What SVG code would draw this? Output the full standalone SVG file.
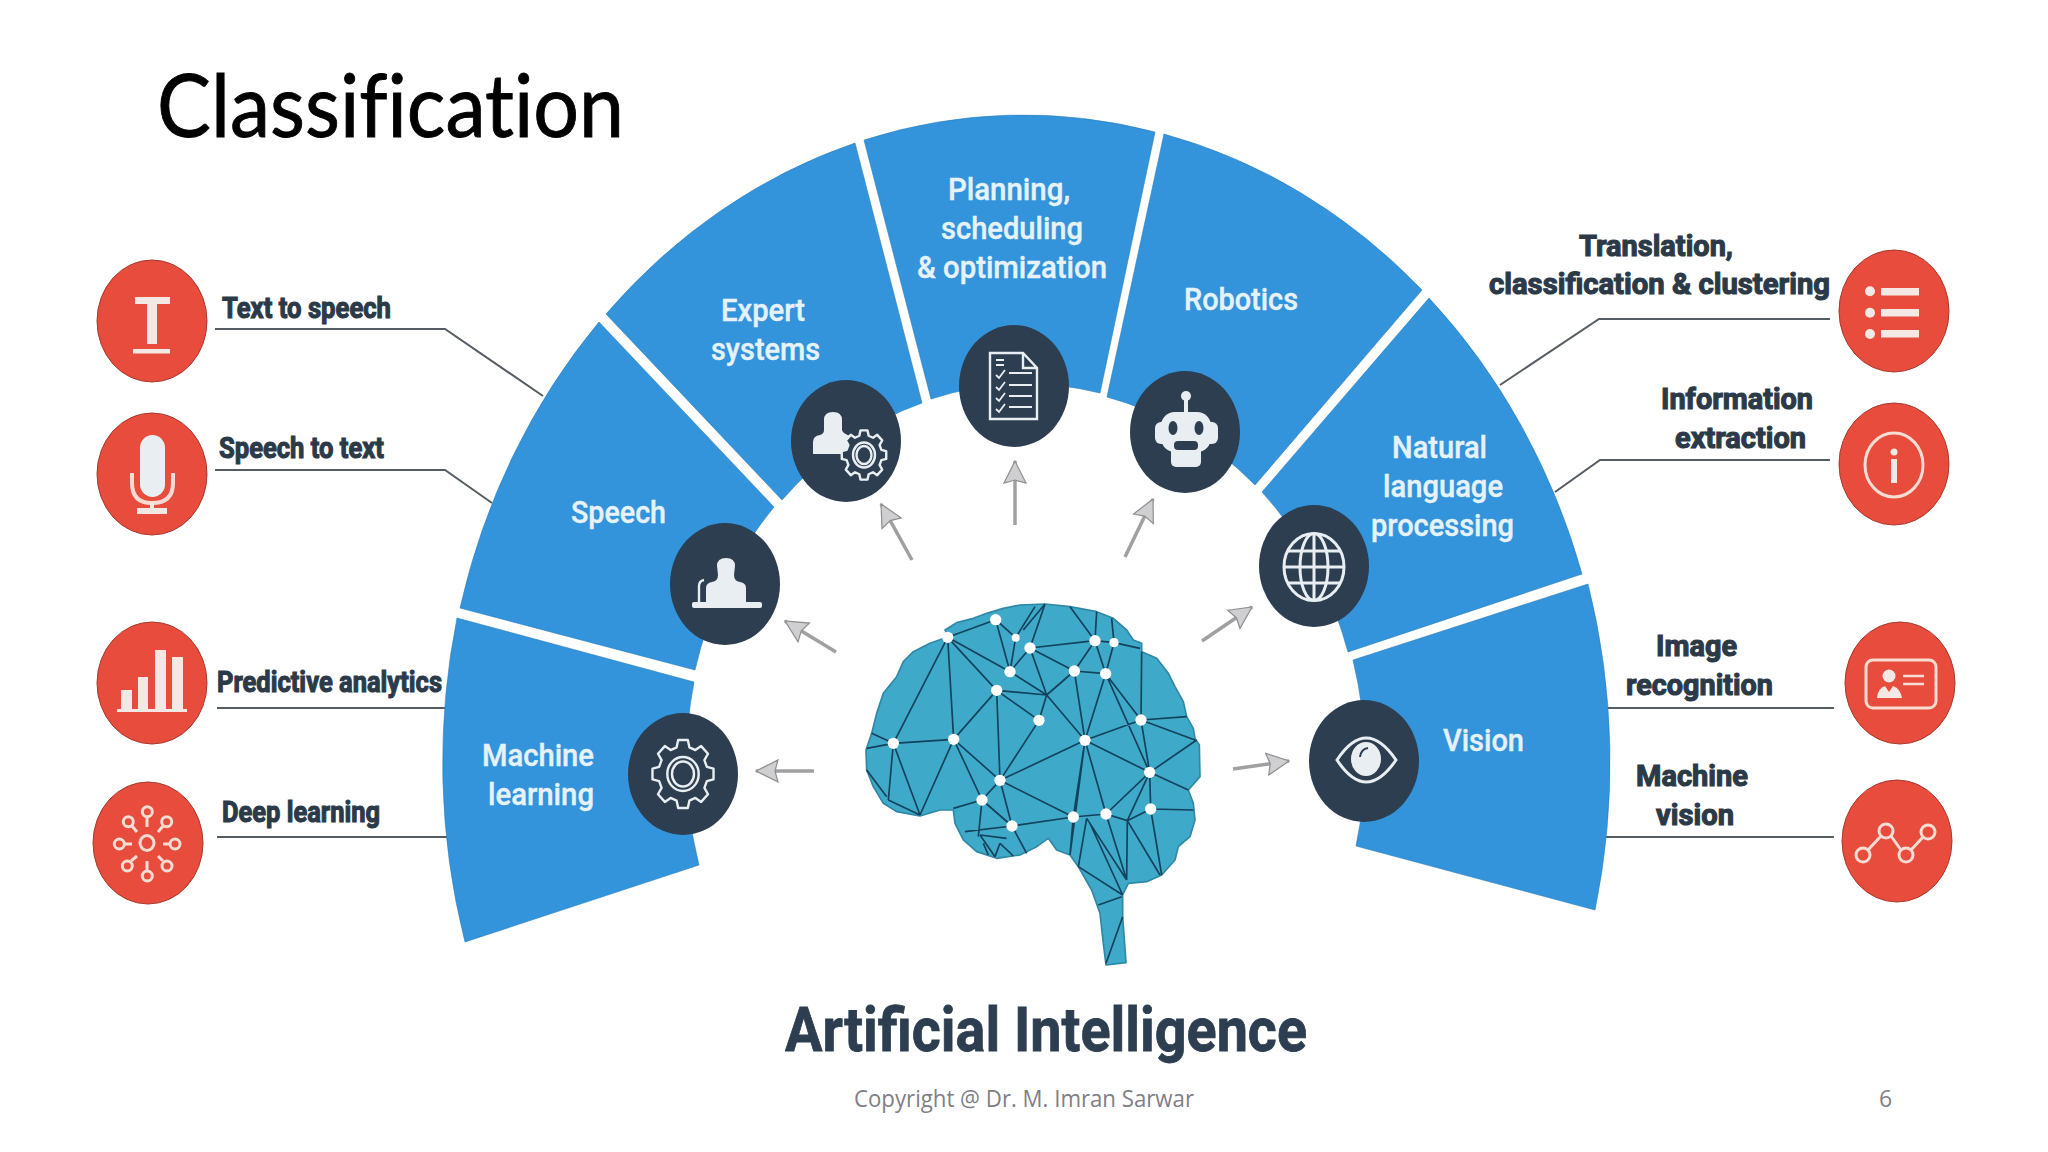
<svg xmlns="http://www.w3.org/2000/svg" width="2048" height="1152" viewBox="0 0 2048 1152">
<style>
.seg{fill:#3393db;stroke:#2a7fc0;stroke-width:.6}
.hub{fill:#2c3e50}
.red{fill:#e74c3c;stroke:#a83a2e;stroke-width:1}
.wl{font-family:Roboto,"Liberation Sans",sans-serif;font-weight:500;font-size:31px;fill:#e6f2fa;stroke:#e6f2fa;stroke-width:.4}
.dl{font-family:Roboto,"Liberation Sans",sans-serif;font-weight:700;font-size:29px;fill:#2c3a48;stroke:#2c3a48;stroke-width:1.1}
.ic{fill:#e9eef2}
.icl{fill:none;stroke:#e9eef2;stroke-width:2.4}
.rf{fill:#f3e8e3}
.rl{fill:none;stroke:#f6dcd3;stroke-width:3}
.lead{fill:none;stroke:#555c63;stroke-width:2}
.arr{fill:none;stroke:#a0a0a0;stroke-width:3.5;marker-end:url(#ah)}
</style>
<defs>
<marker id="ah" markerUnits="userSpaceOnUse" markerWidth="26" markerHeight="28" refX="23" refY="13" orient="auto">
<path d="M1,2 L23,13 L1,24 L4,13 Z" fill="#cfcfd2" stroke="#8f8f92" stroke-width="1.2"/>
</marker>
<g id="gear"><polygon vector-effect="non-scaling-stroke" fill="#2c3e50" stroke="#e9eef2" stroke-width="2.4" stroke-linejoin="round" points="23.18,-6.21 29.63,-4.69 29.63,4.69 23.18,6.21 20.78,12 24.27,17.63 17.63,24.27 12,20.78 6.21,23.18 4.69,29.63 -4.69,29.63 -6.21,23.18 -12,20.78 -17.63,24.27 -24.27,17.63 -20.78,12 -23.18,6.21 -29.63,4.69 -29.63,-4.69 -23.18,-6.21 -20.78,-12 -24.27,-17.63 -17.63,-24.27 -12,-20.78 -6.21,-23.18 -4.69,-29.63 4.69,-29.63 6.21,-23.18 12,-20.78 17.63,-24.27 24.27,-17.63 20.78,-12"/></g>
</defs>
<rect width="2048" height="1152" fill="#fff"/>
<text id="title" x="157" y="137" font-family="Lato,'Open Sans',sans-serif" font-size="88" fill="#000" stroke="#000" stroke-width=".9" style="font-variant-ligatures:none" textLength="467" lengthAdjust="spacingAndGlyphs">Classification</text>

<g id="connectors">
<path class="lead" d="M215,329 H445 L543,396"/>
<path class="lead" d="M215,470 H445 L492,503"/>
<path class="lead" d="M217,708 H446"/>
<path class="lead" d="M217,837 H447"/>
<path class="lead" d="M1830,319 H1599 L1500,385"/>
<path class="lead" d="M1830,460 H1600 L1555,492"/>
<path class="lead" d="M1834,708 H1606"/>
<path class="lead" d="M1834,837 H1605"/>
<path class="arr" d="M814,771 H756"/>
<path class="arr" d="M836,652 L785,621"/>
<path class="arr" d="M912,560 L881,504"/>
<path class="arr" d="M1015,525 V461"/>
<path class="arr" d="M1125,557 L1153,499"/>
<path class="arr" d="M1202,641 L1252,607"/>
<path class="arr" d="M1233,769 L1289,761"/>
</g>

<g id="node-machine-learning">
<path class="seg" d="M457,618 A582 655 0 0 0 465,942 L699,865 A340 380 0 0 1 694,682 Z"/>
<ellipse class="hub" cx="683" cy="774" rx="55" ry="61"/>
<use href="#gear" transform="translate(683,774) scale(1.03,1.15)"/>
<ellipse class="icl" cx="683" cy="774" rx="15.7" ry="17"/>
<ellipse class="icl" cx="683" cy="774" rx="11" ry="12.5"/>
<text class="wl" x="482" y="766" textLength="112" lengthAdjust="spacingAndGlyphs">Machine</text>
<text class="wl" x="488" y="805" textLength="106" lengthAdjust="spacingAndGlyphs">learning</text>
</g>
<g id="node-speech">
<path class="seg" d="M599,322 A582 655 0 0 0 460,608 L695,670 A340 380 0 0 1 774,507 Z"/>
<ellipse class="hub" cx="725" cy="584" rx="55" ry="61"/>
<path class="ic" d="M717,566 Q717,558 726,558 Q735,558 735,566 L734,575 Q734,581 740,582 Q746,583 746,588 L746,602 L706,602 L706,588 Q706,583 712,582 Q718,581 718,575 Z"/>
<rect class="ic" x="692" y="602" width="70" height="6" rx="2"/>
<path class="icl" d="M699,602 V586 Q699,581 704,580"/>
<text class="wl" x="571" y="523" textLength="95" lengthAdjust="spacingAndGlyphs">Speech</text>
</g>
<g id="node-expert-systems">
<path class="seg" d="M855,143 A582 655 0 0 0 606,314 L782,500 A340 380 0 0 1 922,403 Z"/>
<ellipse class="hub" cx="846" cy="441" rx="55" ry="61"/>
<path class="ic" d="M824,420 Q824,412 833,412 Q842,412 842,420 L842,430 Q843,434 851,436 L851,454 H813 V442 Q813,436 820,435 Q824,434 824,430 Z"/>
<use href="#gear" transform="translate(864,455) scale(.75,.83)"/>
<ellipse class="icl" cx="864" cy="455" rx="11" ry="12.5"/>
<ellipse class="icl" cx="864" cy="455" rx="7.5" ry="9"/>
<text class="wl" x="721" y="321" textLength="84" lengthAdjust="spacingAndGlyphs">Expert</text>
<text class="wl" x="711" y="360" textLength="109" lengthAdjust="spacingAndGlyphs">systems</text>
</g>
<g id="node-planning">
<path class="seg" d="M1155,132 A582 655 0 0 0 864,140 L931,399 A340 380 0 0 1 1100,393 Z"/>
<ellipse class="hub" cx="1014" cy="386" rx="55" ry="61"/>
<path class="icl" d="M990,353 H1023 L1037,368 V419 H990 Z M1023,353 V368 H1037"/>
<path class="icl" style="stroke-width:1.8" d="M996,360 H1004 M996,365 H1004 M996,375 L999,378 L1005,370 M1009,373 H1032 M996,387 L999,390 L1005,382 M1009,385 H1032 M996,398 L999,401 L1005,393 M1009,396 H1032 M996,409 L999,412 L1005,404 M1009,407 H1032"/>
<text class="wl" x="948" y="200" textLength="122" lengthAdjust="spacingAndGlyphs">Planning,</text>
<text class="wl" x="941" y="239" textLength="142" lengthAdjust="spacingAndGlyphs">scheduling</text>
<text class="wl" x="917" y="278" textLength="190" lengthAdjust="spacingAndGlyphs">&amp; optimization</text>
</g>
<g id="node-robotics">
<path class="seg" d="M1422,290 A582 655 0 0 0 1164,134 L1107,397 A340 380 0 0 1 1255,485 Z"/>
<ellipse class="hub" cx="1185" cy="432" rx="55" ry="61"/>
<circle class="ic" cx="1186" cy="396" r="5"/>
<rect class="ic" x="1184" y="398" width="4" height="16"/>
<rect class="ic" x="1161" y="412" width="50" height="40" rx="14"/>
<rect class="ic" x="1155" y="422" width="63" height="22" rx="6"/>
<rect class="ic" x="1171" y="445" width="30" height="22" rx="5"/>
<ellipse class="hub" cx="1173" cy="428" rx="4.5" ry="7"/>
<ellipse class="hub" cx="1199" cy="428" rx="4.5" ry="7"/>
<rect class="hub" x="1174" y="441" width="24" height="9" rx="4"/>
<text class="wl" x="1184" y="310" textLength="114" lengthAdjust="spacingAndGlyphs">Robotics</text>
</g>
<g id="node-nlp">
<path class="seg" d="M1582,574 A582 655 0 0 0 1429,298 L1262,492 A340 380 0 0 1 1348,652 Z"/>
<ellipse class="hub" cx="1314" cy="566" rx="55" ry="61"/>
<ellipse class="icl" style="stroke-width:3" cx="1314" cy="567" rx="30" ry="33.5"/>
<ellipse class="icl" style="stroke-width:3" cx="1314" cy="567" rx="14" ry="33.5"/>
<path class="icl" style="stroke-width:3" d="M1314,533 V600 M1284,567 H1344 M1288,551 H1340 M1288,583 H1340"/>
<text class="wl" x="1392" y="458" textLength="95" lengthAdjust="spacingAndGlyphs">Natural</text>
<text class="wl" x="1383" y="497" textLength="120" lengthAdjust="spacingAndGlyphs">language</text>
<text class="wl" x="1371" y="536" textLength="143" lengthAdjust="spacingAndGlyphs">processing</text>
</g>
<g id="node-vision">
<path class="seg" d="M1595,910 A582 655 0 0 0 1588,584 L1353,660 A340 380 0 0 1 1356,846 Z"/>
<ellipse class="hub" cx="1364" cy="761" rx="55" ry="61"/>
<path class="icl" style="stroke-width:3" d="M1337,760 Q1366,716 1396,760 Q1366,804 1337,760 Z"/>
<ellipse class="ic" cx="1366" cy="759" rx="15" ry="17"/>
<path d="M1360,757 Q1361,749 1368,748" fill="none" stroke="#2c3e50" stroke-width="2"/>
<text class="wl" x="1443" y="751" textLength="81" lengthAdjust="spacingAndGlyphs">Vision</text>
</g>

<g id="leaf-text-to-speech">
<ellipse class="red" cx="152" cy="321" rx="55" ry="61"/>
<rect class="rf" x="135" y="297" width="35" height="7"/>
<rect class="rf" x="147" y="304" width="10" height="40"/>
<rect class="rf" x="133" y="349" width="37" height="4.5"/>
<text class="dl" x="222" y="318" textLength="169" lengthAdjust="spacingAndGlyphs">Text to speech</text>
</g>
<g id="leaf-speech-to-text">
<ellipse class="red" cx="152" cy="474" rx="55" ry="61"/>
<rect class="ic" x="140" y="435" width="25" height="62" rx="12.5"/>
<path class="rl" style="stroke-width:4" d="M132,473 V483 Q132,503 152,503 Q173,503 173,483 V473"/>
<rect class="rf" x="150" y="503" width="4" height="6"/>
<rect class="rf" x="137" y="508" width="30" height="6"/>
<text class="dl" x="219" y="458" textLength="165" lengthAdjust="spacingAndGlyphs">Speech to text</text>
</g>
<g id="leaf-predictive-analytics">
<ellipse class="red" cx="152" cy="683" rx="55" ry="61"/>
<rect class="rf" x="121" y="690" width="11" height="19"/>
<rect class="rf" x="138" y="677" width="10" height="32"/>
<rect class="rf" x="155" y="650" width="11" height="59"/>
<rect class="rf" x="172" y="657" width="11" height="52"/>
<rect class="rf" x="117" y="709" width="70" height="3"/>
<text class="dl" x="217" y="692" textLength="225" lengthAdjust="spacingAndGlyphs">Predictive analytics</text>
</g>
<g id="leaf-deep-learning">
<ellipse class="red" cx="148" cy="843" rx="55" ry="61"/>
<path class="rl" d="M147,817 V827 M132,826 L137,832 M163,826 L158,832 M125,844 H132 M169,844 H163 M131,861 L137,856 M163,861 L158,856 M147,870 V861"/>
<ellipse class="rl" cx="147" cy="843" rx="7" ry="7.5"/>
<circle class="rl" cx="147.3" cy="811.7" r="5"/>
<circle class="rl" cx="128.3" cy="821.7" r="5"/>
<circle class="rl" cx="166.7" cy="821.7" r="5"/>
<circle class="rl" cx="119.3" cy="844" r="5"/>
<circle class="rl" cx="175" cy="844" r="5"/>
<circle class="rl" cx="127.3" cy="866" r="5"/>
<circle class="rl" cx="167" cy="866" r="5"/>
<circle class="rl" cx="147.3" cy="876" r="5"/>
<text class="dl" x="222" y="822" textLength="158" lengthAdjust="spacingAndGlyphs">Deep learning</text>
</g>
<g id="leaf-translation">
<ellipse class="red" cx="1894" cy="311" rx="55" ry="61"/>
<circle class="rf" cx="1870" cy="291.3" r="5"/>
<circle class="rf" cx="1870" cy="312.7" r="5"/>
<circle class="rf" cx="1870" cy="334" r="5"/>
<rect class="rf" x="1881" y="288" width="38" height="7.5"/>
<rect class="rf" x="1881" y="309" width="38" height="7.5"/>
<rect class="rf" x="1881" y="330" width="38" height="7.5"/>
<text class="dl" x="1579" y="256" textLength="154" lengthAdjust="spacingAndGlyphs">Translation,</text>
<text class="dl" x="1489" y="294" textLength="341" lengthAdjust="spacingAndGlyphs">classification &amp; clustering</text>
</g>
<g id="leaf-information-extraction">
<ellipse class="red" cx="1894" cy="464" rx="55" ry="61"/>
<ellipse class="rl" cx="1894" cy="465" rx="29" ry="32"/>
<circle class="rf" cx="1894" cy="452" r="3.5"/>
<rect class="rf" x="1891" y="459" width="6" height="24"/>
<text class="dl" x="1661" y="409" textLength="152" lengthAdjust="spacingAndGlyphs">Information</text>
<text class="dl" x="1675" y="448" textLength="131" lengthAdjust="spacingAndGlyphs">extraction</text>
</g>
<g id="leaf-image-recognition">
<ellipse class="red" cx="1900" cy="683" rx="55" ry="61"/>
<rect class="rl" x="1866" y="660" width="70" height="48" rx="7"/>
<circle class="rf" cx="1889" cy="676" r="6.5"/>
<path class="rf" d="M1877,698 Q1878,688 1885,686 L1889,692 L1893,686 Q1900,688 1902,698 Z"/>
<path class="rl" style="stroke-width:2.5" d="M1903,676 H1924 M1903,684 H1924"/>
<text class="dl" x="1656" y="656" textLength="81" lengthAdjust="spacingAndGlyphs">Image</text>
<text class="dl" x="1626" y="695" textLength="147" lengthAdjust="spacingAndGlyphs">recognition</text>
</g>
<g id="leaf-machine-vision">
<ellipse class="red" cx="1897" cy="841" rx="55" ry="61"/>
<path class="rl" d="M1868,850 L1881,836 M1891,836 L1901,850 M1911,850 L1923,837"/>
<circle class="rl" cx="1863" cy="855" r="7"/>
<circle class="rl" cx="1886" cy="831" r="7"/>
<circle class="rl" cx="1906" cy="855" r="7"/>
<circle class="rl" cx="1928" cy="832" r="7"/>
<text class="dl" x="1636" y="786" textLength="112" lengthAdjust="spacingAndGlyphs">Machine</text>
<text class="dl" x="1656" y="825" textLength="78" lengthAdjust="spacingAndGlyphs">vision</text>
</g>

<g id="brain" transform="translate(840,580) scale(.33333)">
<polygon fill="#3fa9c9" stroke="#2f88a6" stroke-width="5" stroke-linejoin="round" points="325,170 315,150 350,128 400,115 440,100 490,85 540,75 615,72 690,80 770,95 820,115 860,150 880,180 905,190 905,215 950,235 985,280 1005,320 1030,365 1040,410 1060,445 1065,475 1078,495 1080,590 1045,630 1060,670 1065,720 1050,770 1015,800 1005,840 965,885 920,905 865,910 848,945 848,1010 858,1148 798,1155 790,1090 780,1000 755,930 715,860 690,825 650,810 625,775 590,800 540,825 470,835 410,815 370,780 345,730 340,690 300,690 240,708 170,695 130,670 100,620 80,570 78,510 95,460 110,400 130,340 170,290 190,245 220,215 270,190"/>
<path fill="none" stroke="#12425c" stroke-width="5" d="M323,172 L467,119 M323,172 L160,490 M323,172 L341,478 M323,172 L510,275 M323,172 L470,331 M467,119 L510,275 M467,119 L527,173 M527,173 L510,275 M527,173 L585,80 M570,204 L510,275 M570,204 L765,182 M765,182 L822,188 M822,188 L900,205 M570,204 L615,72 M570,204 L703,273 M570,204 L620,345 M510,275 L620,345 M470,331 L620,345 M470,331 L341,478 M470,331 L597,421 M470,331 L480,601 M597,421 L620,345 M620,345 L735,481 M597,421 L480,601 M620,345 L703,273 M703,273 L735,481 M703,273 L797,281 M797,281 L735,481 M797,281 L903,420 M797,281 L929,577 M703,273 L765,182 M765,182 L690,80 M765,182 L770,95 M765,182 L797,281 M822,188 L797,281 M822,188 L815,115 M615,72 L550,150 M903,420 L735,481 M903,420 L929,577 M903,420 L905,215 M903,420 L1040,410 M903,420 L1065,480 M341,478 L160,490 M160,490 L80,505 M160,490 L95,460 M160,490 L145,660 M160,490 L240,705 M341,478 L240,705 M341,478 L480,601 M341,478 L426,660 M480,601 L735,481 M480,601 L426,660 M480,601 L700,711 M480,601 L516,738 M426,660 L340,685 M426,660 L516,738 M426,660 L415,770 M516,738 L700,711 M700,711 L798,702 M798,702 L735,481 M700,711 L735,481 M735,481 L929,577 M735,481 L690,825 M929,577 L798,702 M929,577 L862,722 M929,577 L932,687 M929,577 L1070,480 M929,577 L1045,630 M932,687 L862,722 M932,687 L1060,690 M932,687 L965,885 M862,722 L860,900 M862,722 L960,885 M798,702 L862,722 M740,715 L715,860 M740,715 L860,900 M750,730 L848,945 M798,702 L860,900 M690,825 L700,711 M80,570 L140,650 M145,660 L240,705 M775,975 L845,950 M798,1150 L848,1010 M715,860 L848,945 M375,755 L516,738 M420,765 L465,830 M420,765 L500,775 M430,790 L445,825 M480,790 L520,828 M480,790 L465,830 M516,738 L560,820"/>
<g fill="#fff">
<circle cx="467" cy="119" r="17"/><circle cx="527" cy="173" r="12"/><circle cx="570" cy="204" r="17"/><circle cx="765" cy="182" r="17"/><circle cx="822" cy="188" r="14"/><circle cx="323" cy="172" r="17"/><circle cx="510" cy="275" r="17"/><circle cx="703" cy="273" r="17"/><circle cx="797" cy="281" r="17"/><circle cx="470" cy="331" r="17"/><circle cx="597" cy="421" r="17"/><circle cx="903" cy="420" r="17"/><circle cx="160" cy="490" r="17"/><circle cx="341" cy="478" r="17"/><circle cx="735" cy="481" r="17"/><circle cx="929" cy="577" r="17"/><circle cx="480" cy="601" r="17"/><circle cx="426" cy="660" r="17"/><circle cx="700" cy="711" r="17"/><circle cx="798" cy="702" r="17"/><circle cx="932" cy="687" r="17"/><circle cx="516" cy="738" r="17"/>
</g>
</g>

<text id="ai-title" x="785" y="1051" font-family="Roboto,'Liberation Sans',sans-serif" font-weight="700" font-size="62" fill="#2c3e50" stroke="#2c3e50" stroke-width=".8" textLength="522" lengthAdjust="spacingAndGlyphs">Artificial Intelligence</text>
<text id="footer" x="854" y="1107" font-family="'Open Sans','Noto Sans',sans-serif" font-size="23" fill="#7f7f87" textLength="340" lengthAdjust="spacingAndGlyphs">Copyright @ Dr. M. Imran Sarwar</text>
<text id="page" x="1879" y="1107" font-family="'Open Sans','Noto Sans',sans-serif" font-size="23" fill="#7f7f87">6</text>
</svg>
